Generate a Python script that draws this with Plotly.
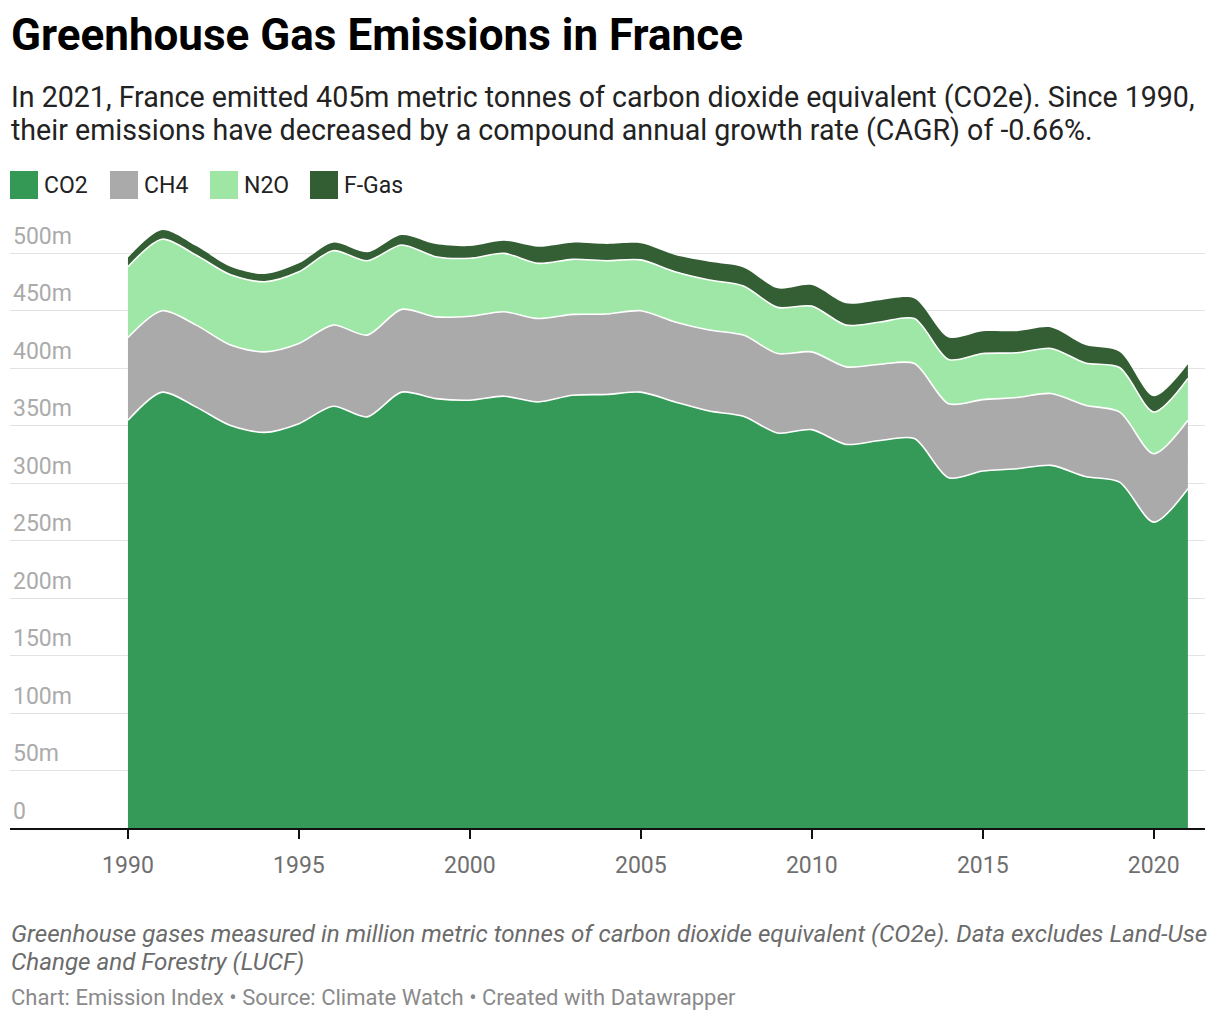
import plotly.graph_objects as go

years = list(range(1990, 2022))
co2 = [354.5, 379.0, 366.0, 350.0, 344.0, 351.6, 366.7, 357.5, 379.0, 373.4,
       372.0, 375.5, 370.5, 376.3, 377.0, 379.0, 370.5, 362.6, 358.0, 343.5,
       346.4, 333.6, 337.0, 338.6, 304.6, 310.4, 312.4, 315.3, 305.7, 300.8,
       266.0, 295.0]
ch4 = [72.0, 70.8, 71.3, 69.9, 70.0, 69.7, 70.6, 71.1, 72.0, 71.1,
       73.0, 73.4, 72.5, 70.3, 69.9, 70.8, 69.5, 70.4, 70.6, 69.1,
       67.6, 67.4, 66.3, 65.3, 64.4, 62.1, 61.9, 62.5, 61.9, 61.0,
       59.5, 59.5]
n2o = [61.5, 62.2, 60.7, 61.1, 61.0, 62.4, 64.7, 64.7, 56.0, 52.3,
       50.4, 50.8, 48.0, 47.9, 46.4, 44.2, 43.7, 43.5, 42.7, 40.1,
       39.8, 36.3, 36.7, 39.1, 38.4, 40.1, 38.9, 39.2, 36.8, 38.6,
       36.3, 36.4]
fgas = [8.0, 8.0, 8.0, 7.0, 6.7, 7.3, 7.0, 7.3, 8.7, 11.0,
        10.6, 11.0, 14.5, 14.5, 14.5, 14.4, 14.6, 15.9, 16.2, 16.6,
        18.3, 18.9, 19.0, 17.5, 19.2, 19.4, 18.8, 18.3, 15.5, 13.8,
        13.6, 12.4]

series_names = ["CO2", "CH4", "N2O", "F-Gas"]
series_values = [co2, ch4, n2o, fgas]
series_colors = ["#339955", "#aaaaaa", "#9fe6a5", "#335e33"]
fill_colors = ["rgba(40,148,77,0.94)", "rgba(165,165,165,0.94)",
               "rgba(153,229,160,0.94)", "rgba(44,88,44,0.96)"]

x_ticks = [1990, 1995, 2000, 2005, 2010, 2015, 2020]
y_ticks = [0, 50, 100, 150, 200, 250, 300, 350, 400, 450, 500]
y_ticklabels = ["0"] + [f"{v}m" for v in y_ticks[1:]]

OFF = 8  # page body margin
W, H = 1220 - 2 * OFF, 1022 - 2 * OFF
ML, MR, MT, MB = 10 - OFF, 1220 - OFF - 1205, 207 - OFF, H - (828 - OFF)
PW = W - ML - MR
PH = H - MT - MB

def px(x):  # reference screen x -> paper
    return (x - OFF - ML) / PW

def py(y):  # reference screen y -> paper
    return (H - MB - (y - OFF)) / PH

fig = go.Figure()
for i, (name, vals) in enumerate(zip(series_names, series_values)):
    top = i == len(series_names) - 1
    fig.add_trace(go.Scatter(
        x=years, y=vals, name=name, stackgroup="one", mode="lines",
        line=dict(color="white" if not top else fill_colors[i],
                  width=1.6 if not top else 0, shape="spline", smoothing=0.8),
        fillcolor=fill_colors[i], showlegend=False, hoverinfo="skip",
    ))

font = "Roboto"
annotations = [
    dict(text="<b>Greenhouse Gas Emissions in France</b>", x=px(9), y=py(35),
         yanchor="middle", font=dict(family=font, size=44, color="#000")),
    dict(text="In 2021, France emitted 405m metric tonnes of carbon dioxide equivalent (CO2e). Since 1990,",
         x=px(9), y=py(96.5), yanchor="middle", font=dict(family=font, size=28.6, color="#222")),
    dict(text="their emissions have decreased by a compound annual growth rate (CAGR) of -0.66%.",
         x=px(9), y=py(130.5), yanchor="middle", font=dict(family=font, size=28.6, color="#222")),
    dict(text="<i>Greenhouse gases measured in million metric tonnes of carbon dioxide equivalent (CO2e). Data excludes Land-Use</i>",
         x=px(9), y=py(934), yanchor="middle", font=dict(family=font, size=24.2, color="#6b6b6b")),
    dict(text="<i>Change and Forestry (LUCF)</i>",
         x=px(9), y=py(962), yanchor="middle", font=dict(family=font, size=24.2, color="#6b6b6b")),
    dict(text="Chart: Emission Index \u2022 Source: Climate Watch \u2022 Created with Datawrapper",
         x=px(9), y=py(998), yanchor="middle", font=dict(family=font, size=22, color="#8a8a8a")),
]
shapes = []
legend_x = [10, 110, 210, 310]
for name, col, lx in zip(series_names, series_colors, legend_x):
    shapes.append(dict(type="rect", xref="paper", yref="paper",
                       x0=px(lx), x1=px(lx + 28), y0=py(199), y1=py(171),
                       fillcolor=col, line=dict(width=0)))
    annotations.append(dict(text=name, x=px(lx + 32), y=py(185), yanchor="middle",
                            font=dict(family=font, size=23, color="#222")))
for a in annotations:
    a["xref"] = "paper"
    a["yref"] = "paper"
    a["xanchor"] = "left"
    a["align"] = "left"
    a["showarrow"] = False

fig.update_layout(
    width=W, height=H, margin=dict(l=ML, r=MR, t=MT, b=MB),
    paper_bgcolor="white", plot_bgcolor="white",
    annotations=annotations, shapes=shapes, showlegend=False,
    xaxis=dict(range=[1986.55, 2021.5], tickvals=x_ticks, showgrid=False,
               showline=True, linecolor="#111", linewidth=2,
               ticks="outside", ticklen=9, tickwidth=2, tickcolor="#111",
               ticklabelstandoff=6,
               tickfont=dict(family=font, size=23, color="#6f6f6f"), zeroline=False),
    yaxis=dict(range=[0, 540], tickvals=y_ticks, ticktext=y_ticklabels,
               ticklabelposition="inside top", ticklabelshift=-1,
               showgrid=True, gridcolor="#e3e3e3",
               gridwidth=1.3, zeroline=False, showline=False,
               tickfont=dict(family=font, size=23, color="#ababab")),
)
fig.write_html("out.html")
